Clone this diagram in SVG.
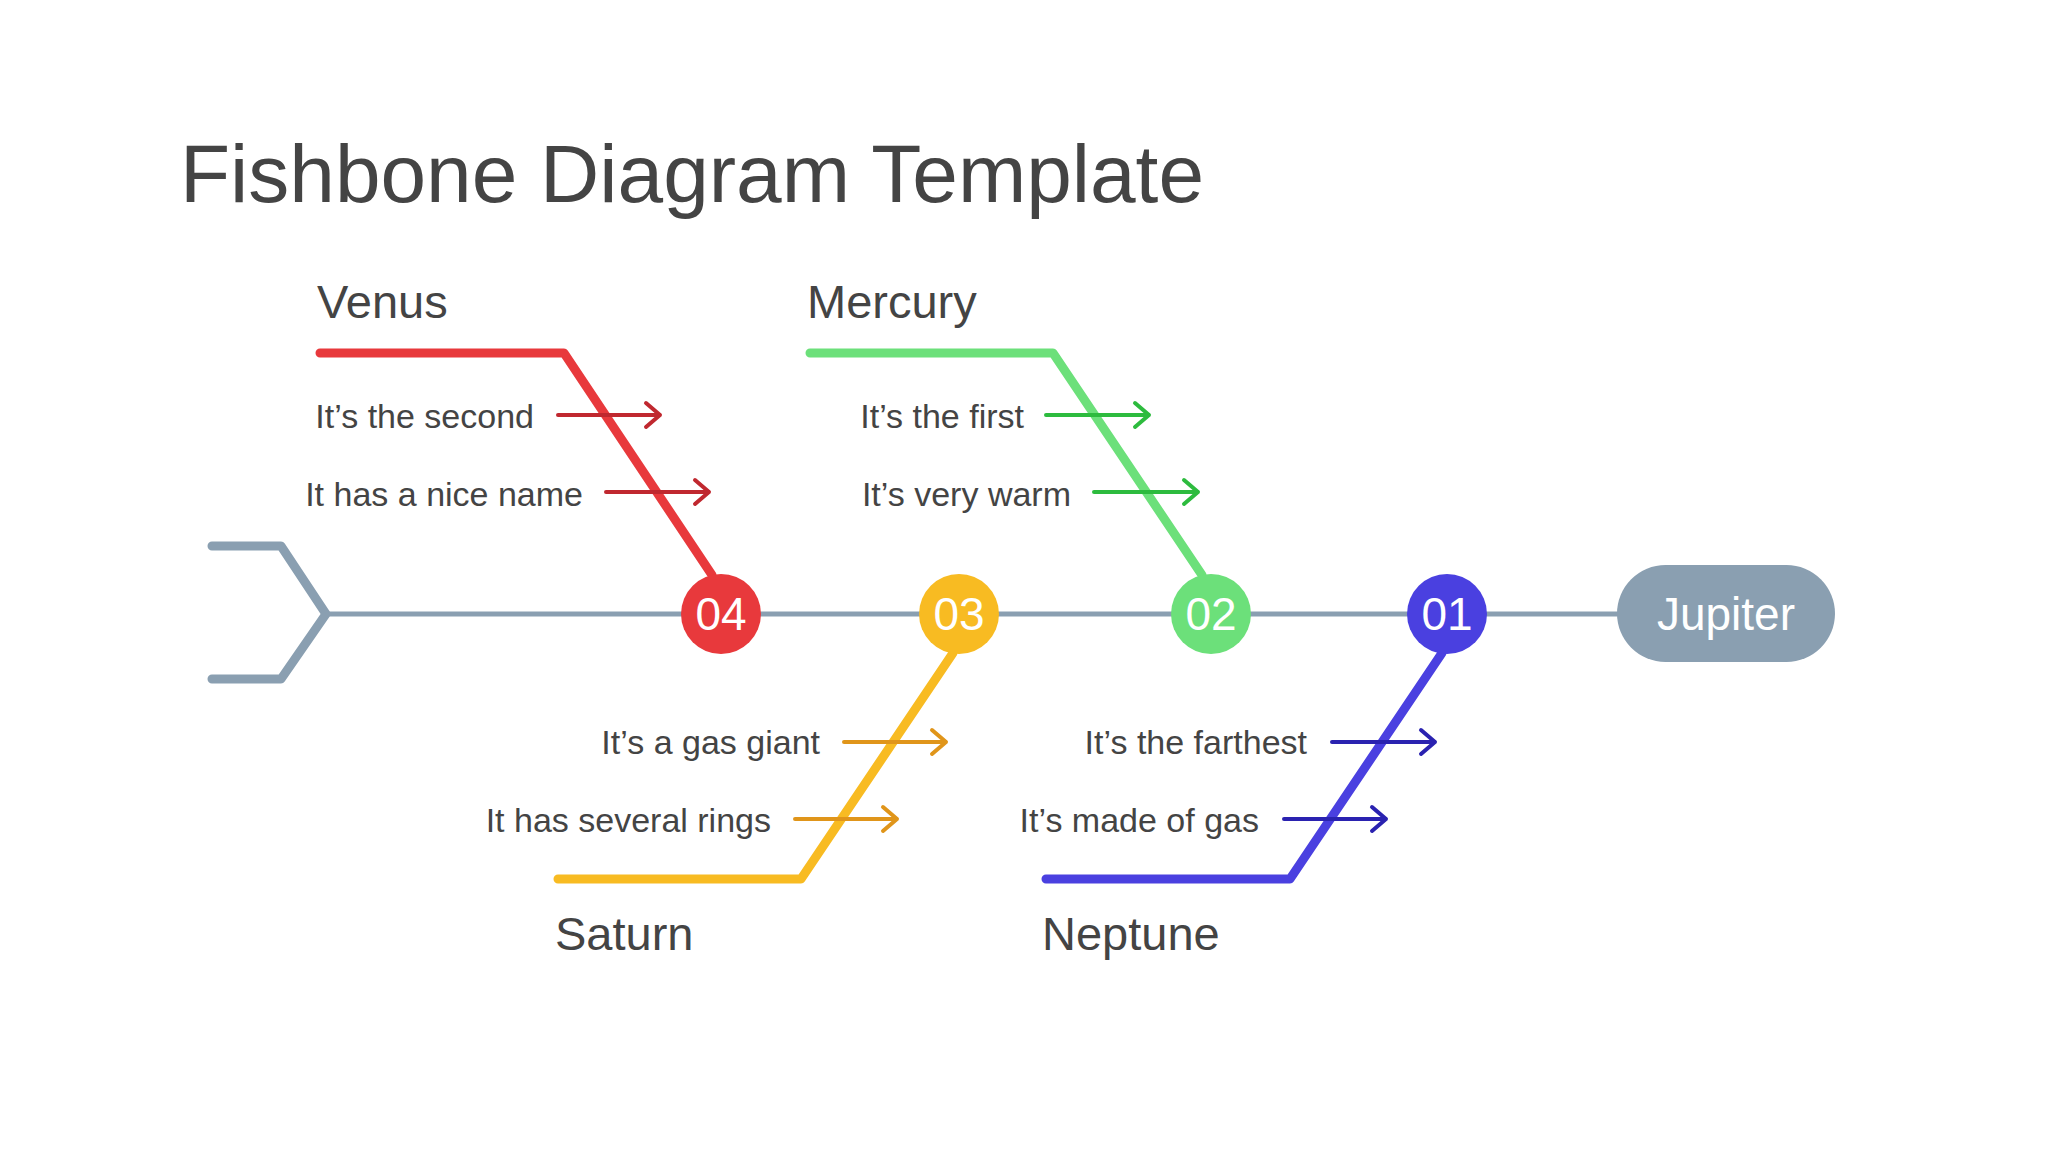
<svg xmlns="http://www.w3.org/2000/svg" width="2048" height="1152" viewBox="0 0 2048 1152">
<style>
text{font-family:"Liberation Sans",Arial,sans-serif;fill:#444}
.t{font-size:34px}
.l{font-size:47px}
.bone{fill:none;stroke-width:9;stroke-linecap:round;stroke-linejoin:round}
.arr{fill:none;stroke-width:4;stroke-linecap:round;stroke-linejoin:round}
.n{font-size:46px;fill:#fff;text-anchor:middle}
</style>
<rect width="2048" height="1152" fill="#fff"/>
<text x="180" y="202" style="font-size:82px">Fishbone Diagram Template</text>
<g id="connectors">
<path class="bone" stroke="#8a9fb1" d="M212 546H281L326 614L281 679H212"/>
<path d="M326 614H1620" stroke="#8a9fb1" stroke-width="5"/>
<path class="bone" stroke="#e8393c" d="M320 353H564L712 575"/>
<path class="bone" stroke="#6ce07a" d="M810 353H1053L1202 575"/>
<path class="bone" stroke="#f8bb22" d="M558 879H801L953 653"/>
<path class="bone" stroke="#4a40e0" d="M1046 879H1290L1442 653"/>
<g stroke="#c0282f" class="arr"><path d="M558 415H660M646 403L660 415L646 427"/><path d="M606 492H709M695 480L709 492L695 504"/></g>
<g stroke="#2dbb3e" class="arr"><path d="M1046 415H1149M1135 403L1149 415L1135 427"/><path d="M1094 492H1198M1184 480L1198 492L1184 504"/></g>
<g stroke="#e0951a" class="arr"><path d="M844 742H946M932 730L946 742L932 754"/><path d="M795 819H897M883 807L897 819L883 831"/></g>
<g stroke="#2a22b0" class="arr"><path d="M1332 742H1435M1421 730L1435 742L1421 754"/><path d="M1284 819H1386M1372 807L1386 819L1372 831"/></g>
</g>
<g id="venus"><text class="l" x="317" y="318">Venus</text>
<text class="t" x="534" y="428" text-anchor="end">It’s the second</text>
<text class="t" x="583" y="506" text-anchor="end">It has a nice name</text></g>
<g id="mercury"><text class="l" x="807" y="318">Mercury</text>
<text class="t" x="1024" y="428" text-anchor="end">It’s the first</text>
<text class="t" x="1071" y="506" text-anchor="end">It’s very warm</text></g>
<g id="saturn"><text class="l" x="555" y="950">Saturn</text>
<text class="t" x="820" y="754" text-anchor="end">It’s a gas giant</text>
<text class="t" x="771" y="832" text-anchor="end">It has several rings</text></g>
<g id="neptune"><text class="l" x="1042" y="950">Neptune</text>
<text class="t" x="1307" y="754" text-anchor="end">It’s the farthest</text>
<text class="t" x="1259" y="832" text-anchor="end">It’s made of gas</text></g>
<g id="n04"><circle cx="721" cy="614" r="40" fill="#e8393c"/><text class="n" x="721" y="630">04</text></g>
<g id="n03"><circle cx="959" cy="614" r="40" fill="#f8bb22"/><text class="n" x="959" y="630">03</text></g>
<g id="n02"><circle cx="1211" cy="614" r="40" fill="#6ce07a"/><text class="n" x="1211" y="630">02</text></g>
<g id="n01"><circle cx="1447" cy="614" r="40" fill="#4a40e0"/><text class="n" x="1447" y="630">01</text></g>
<g id="jupiter"><rect x="1617" y="565" width="218" height="97" rx="48.5" fill="#8a9fb1"/><text x="1726" y="630" style="font-size:46px;fill:#fff" text-anchor="middle">Jupiter</text></g>
</svg>
